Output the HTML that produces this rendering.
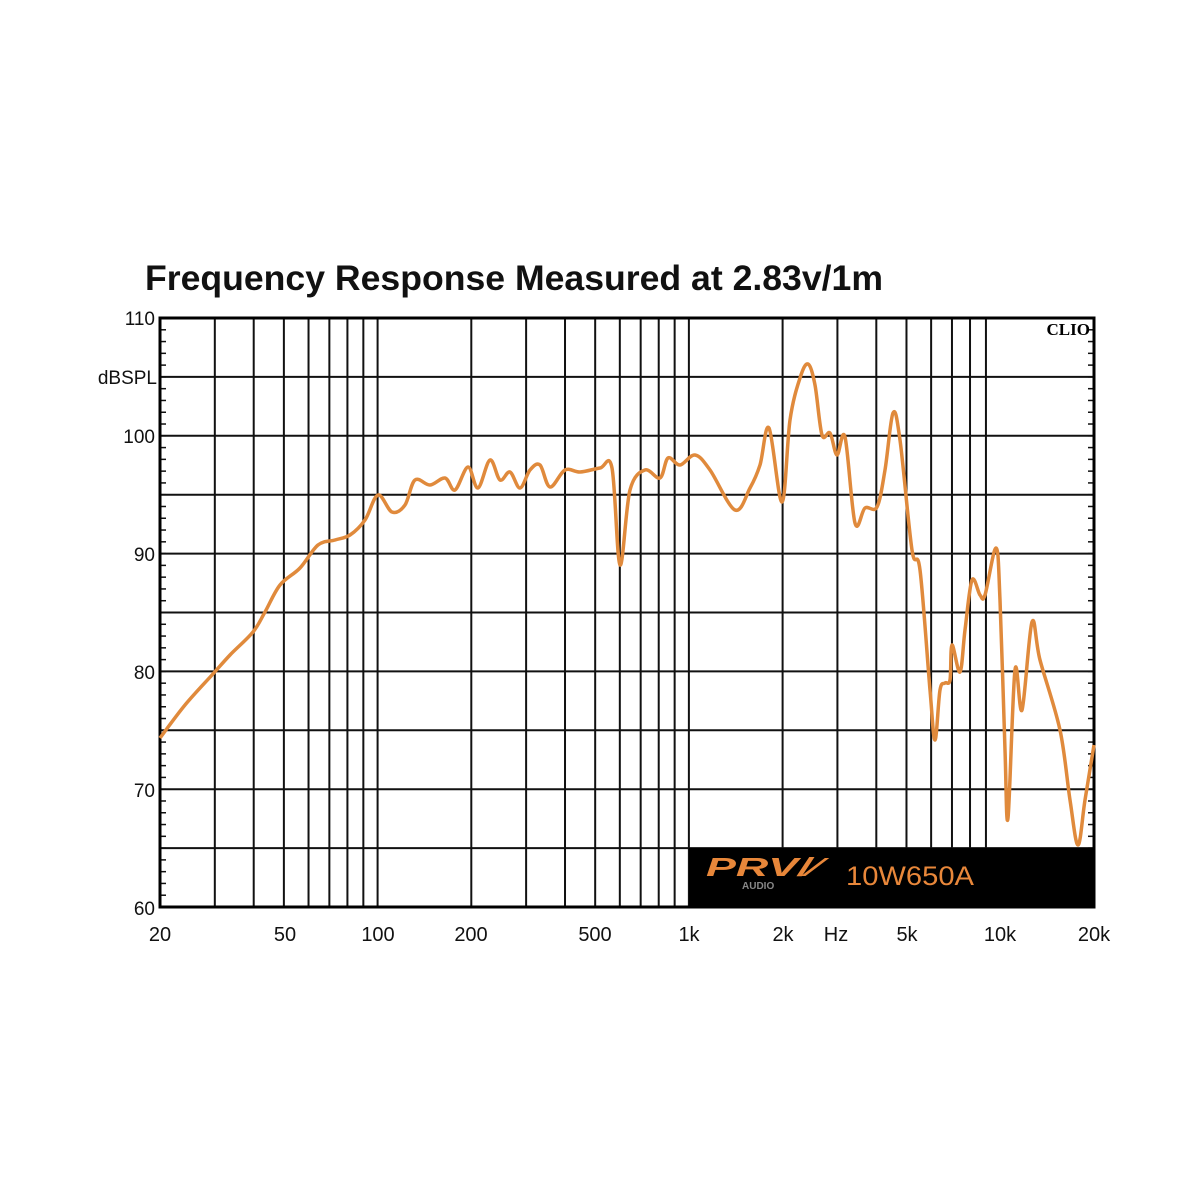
<!DOCTYPE html>
<html><head><meta charset="utf-8"><style>
html,body{margin:0;padding:0;background:#fff;width:1200px;height:1200px;overflow:hidden}
</style></head><body>
<svg width="1200" height="1200" xmlns="http://www.w3.org/2000/svg" font-family="Liberation Sans, Arial, sans-serif">
<rect width="1200" height="1200" fill="#fff"/>
<text x="145" y="290" font-size="35" font-weight="bold" fill="#111" textLength="738" lengthAdjust="spacingAndGlyphs">Frequency Response Measured at 2.83v/1m</text>
<g id="grid" stroke="#111" stroke-width="2"></g>
<rect x="689" y="848" width="406" height="60" fill="#000"/>
<text x="706" y="876" font-size="26" font-style="italic" font-weight="bold" fill="#e8873a" textLength="112" lengthAdjust="spacingAndGlyphs">PRV/&#8260;</text>
<text x="742" y="889" font-size="10" font-weight="bold" fill="#888">AUDIO</text>
<text x="846" y="885" font-size="27" fill="#e8873a" textLength="128" lengthAdjust="spacingAndGlyphs">10W650A</text>
<rect x="160" y="318" width="934" height="589" fill="none" stroke="#000" stroke-width="3"/>
<text x="1090" y="335" font-size="17" font-weight="bold" font-family="Liberation Serif, serif" text-anchor="end">CLIO</text>
<g font-size="19" fill="#111" text-anchor="end">
<text x="155" y="325">110</text><text x="157" y="384">dBSPL</text><text x="155" y="443">100</text>
<text x="155" y="561">90</text><text x="155" y="679">80</text><text x="155" y="797">70</text><text x="155" y="915">60</text>
</g>
<g font-size="20" fill="#111" text-anchor="middle">
<text x="160" y="941">20</text><text x="285" y="941">50</text><text x="378" y="941">100</text><text x="471" y="941">200</text>
<text x="595" y="941">500</text><text x="689" y="941">1k</text><text x="783" y="941">2k</text><text x="836" y="941">Hz</text>
<text x="907" y="941">5k</text><text x="1000" y="941">10k</text><text x="1094" y="941">20k</text>
</g>
<path id="curve" fill="none" stroke="#e08a3c" stroke-width="3.5" stroke-linejoin="round" d=""/>
</svg>
<script>
var g=document.getElementById('grid'),ns='http://www.w3.org/2000/svg';
function L(x1,y1,x2,y2,w){var l=document.createElementNS(ns,'line');l.setAttribute('x1',x1);l.setAttribute('y1',y1);l.setAttribute('x2',x2);l.setAttribute('y2',y2);if(w)l.setAttribute('stroke-width',w);g.appendChild(l);}
function X(f){return 160+311.3*Math.log10(f/20);}
[10,100,1000].forEach(function(d){for(var k=1;k<10;k++){var f=k*d;if(f>20&&f<20000)L(X(f),318,X(f),907);}});
for(var db=65;db<110;db+=5){var y=907-(db-60)*11.78;L(160,y,1094,y);}
for(var db=61;db<110;db++){var y=907-(db-60)*11.78;L(160,y,166,y,1.5);L(1088,y,1094,y,1.5);}
var p=[[160,738],[185,705],[212,675],[230,655],[253,632],[265,612],[280,585],[300,568],[318,545],[335,540],[350,535],[365,520],[378,495],[392,512],[405,505],[415,480],[430,485],[445,478],[455,490],[468,467],[478,488],[490,460],[500,480],[510,472],[520,488],[530,470],[540,465],[550,487],[565,470],[580,472],[600,468],[612,468],[620,565],[630,490],[645,470],[660,478],[668,458],[680,465],[695,455],[710,470],[735,510],[750,488],[760,465],[769,428],[782,502],[790,420],[800,378],[808,364],[815,385],[822,435],[830,433],[837,455],[845,437],[855,523],[865,508],[877,507],[885,470],[893,413],[900,440],[912,550],[920,570],[930,690],[935,740],[940,690],[945,683],[950,680],[952,645],[960,672],[965,630],[972,580],[980,595],[985,595],[996,548],[1000,600],[1005,750],[1008,818],[1015,670],[1022,710],[1032,622],[1040,660],[1060,730],[1070,800],[1078,845],[1085,800],[1094,745]];
var d='M'+p[0][0]+' '+p[0][1];
for(var i=0;i<p.length-1;i++){var p0=p[i-1]||p[i],p1=p[i],p2=p[i+1],p3=p[i+2]||p2;
var c1x=p1[0]+(p2[0]-p0[0])/6,c1y=p1[1]+(p2[1]-p0[1])/6,c2x=p2[0]-(p3[0]-p1[0])/6,c2y=p2[1]-(p3[1]-p1[1])/6;
d+=' C'+c1x.toFixed(1)+' '+c1y.toFixed(1)+' '+c2x.toFixed(1)+' '+c2y.toFixed(1)+' '+p2[0]+' '+p2[1];}
document.getElementById('curve').setAttribute('d',d);
</script>
</body></html>
